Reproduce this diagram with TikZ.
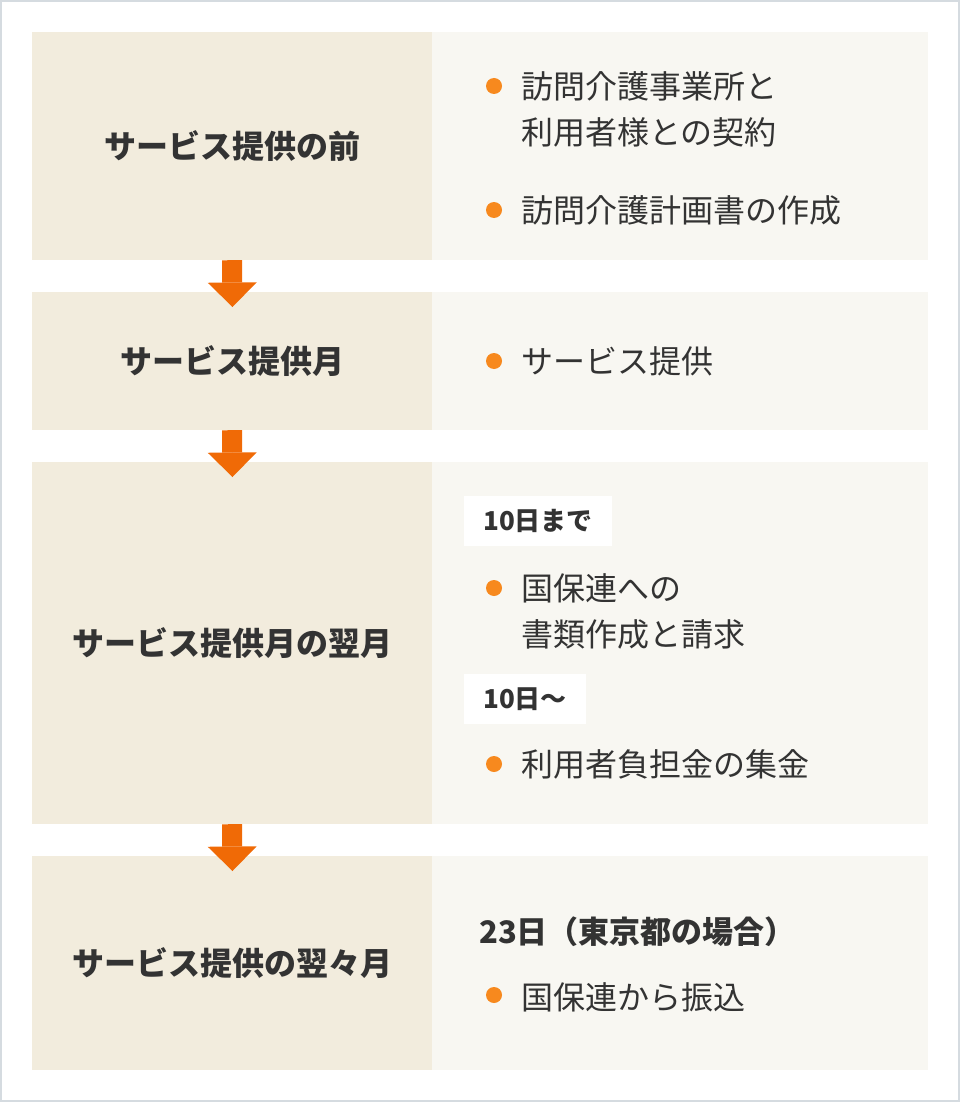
\documentclass[tikz,border=0pt]{standalone}
\usepackage{fontspec}
\setmainfont{Noto Sans CJK JP}
\usetikzlibrary{arrows.meta}
\definecolor{framegray}{HTML}{D5DBE0}
\definecolor{leftfill}{HTML}{F2ECDD}
\definecolor{rightfill}{HTML}{F8F7F2}
\definecolor{txt}{HTML}{333333}
\definecolor{arroworange}{HTML}{F06A06}
\definecolor{dotorange}{HTML}{F7891E}
\begin{document}
\begin{tikzpicture}[x=1pt,y=-1pt,
  leftbox/.style={fill=leftfill, draw=none, minimum width=400pt, inner sep=0pt,
    text=txt, font=\fontsize{32}{40}\selectfont\bfseries},
  rightbox/.style={fill=rightfill, draw=none, minimum width=496pt, inner sep=0pt},
  dot/.style={circle, fill=dotorange, draw=none, minimum size=16pt, inner sep=0pt},
  itemtext/.style={anchor=west, inner sep=0pt, text=txt, align=left,
    font=\fontsize{32}{46}\selectfont},
  tagbox/.style={anchor=west, fill=white, inner xsep=19pt, inner ysep=0pt,
    minimum height=50pt, text=txt, font=\fontsize{26}{30}\selectfont\bfseries},
  datetext/.style={anchor=west, inner sep=0pt, text=txt,
    font=\fontsize{31}{36}\selectfont\bfseries},
  flowarrow/.style={draw=arroworange, line width=20pt,
    -{Triangle[length=24.5pt, width=49pt, line width=0pt]}}
]
\useasboundingbox (0,0) rectangle (960,1102);
\draw[framegray, line width=2pt, fill=white] (1,1) rectangle (959,1101);

% rows
\node[leftbox, minimum height=228pt] (L1) at (232,146) {サービス提供の前};
\node[rightbox, minimum height=228pt] (R1) at (680,146) {};
\node[leftbox, minimum height=138pt] (L2) at (232,361) {サービス提供月};
\node[rightbox, minimum height=138pt] (R2) at (680,361) {};
\node[leftbox, minimum height=362pt] (L3) at (232,643) {サービス提供月の翌月};
\node[rightbox, minimum height=362pt] (R3) at (680,643) {};
\node[leftbox, minimum height=214pt] (L4) at (232,963) {サービス提供の翌々月};
\node[rightbox, minimum height=214pt] (R4) at (680,963) {};

% arrows
\coordinate (t1) at (232.5,307);
\coordinate (t2) at (232.5,477);
\coordinate (t3) at (232.5,871);
\draw[flowarrow] (L1.south) -- (t1);
\draw[flowarrow] (L2.south) -- (t2);
\draw[flowarrow] (L3.south) -- (t3);

% row 1
\node[dot] (d11) at (494,86) {};
\node[itemtext] (i11) at (521,109) {訪問介護事業所と\\利用者様との契約};
\node[dot] (d12) at (494,210) {};
\node[itemtext] (i12) at (521,210) {訪問介護計画書の作成};

% row 2
\node[dot] (d21) at (494,361) {};
\node[itemtext] (i21) at (521,361) {サービス提供};

% row 3
\node[tagbox] (g31) at (464,521) {10日まで};
\node[dot] (d31) at (494,588) {};
\node[itemtext] (i31) at (521,611) {国保連への\\書類作成と請求};
\node[tagbox] (g32) at (464,699) {10日〜};
\node[dot] (d32) at (494,764) {};
\node[itemtext] (i32) at (521,764) {利用者負担金の集金};

% row 4
\node[datetext] (g41) at (479,932) {23日（東京都の場合）};
\node[dot] (d41) at (494,995) {};
\node[itemtext] (i41) at (521,997) {国保連から振込};
\end{tikzpicture}
\end{document}
